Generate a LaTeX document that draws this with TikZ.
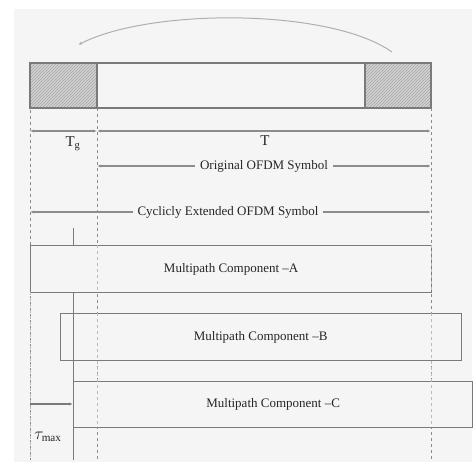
\documentclass[tikz,border=0pt]{standalone}
\usepackage{fontspec}
\setmainfont{Liberation Serif}
\usetikzlibrary{patterns,arrows.meta}
\definecolor{bgc}{HTML}{F5F5F5}
\definecolor{ln}{HTML}{8C8C8C}
\definecolor{lnd}{HTML}{7A7A7A}
\begin{document}
\begin{tikzpicture}[x=1pt,y=-1pt,
  boxline/.style={draw=lnd,line width=1.3pt},
  guide/.style={draw=ln,line width=0.6pt,dash pattern=on 3pt off 3pt},
  dimline/.style={draw=ln,line width=1.1pt},
  tip/.style={-{Latex[length=4pt,width=3pt]}},
  lbl/.style={font=\fontsize{13}{15}\selectfont,text=black!85,inner sep=1pt},
  cutlbl/.style={lbl,fill=bgc,inner xsep=5pt},
  mbox/.style={boxline,fill=bgc}]
\useasboundingbox (0,0) rectangle (474,474);
\fill[bgc] (14,9) rectangle (472,462);
% hatched guard parts
\fill[gray!35] (30,63) rectangle (97,108);
\fill[pattern=north east lines,pattern color=gray!70] (30,63) rectangle (97,108);
\fill[gray!35] (365,63) rectangle (431,108);
\fill[pattern=north east lines,pattern color=gray!70] (365,63) rectangle (431,108);
% symbol box
\coordinate (s1) at (30,63);
\coordinate (s2) at (431,108);
\draw[boxline] (s1) rectangle (s2);
\draw[boxline] (97,63) -- (97,108);
\draw[boxline] (365,63) -- (365,108);
% arc
\coordinate (arcA) at (392,52);
\coordinate (arcB) at (78,45);
\draw[draw=ln!70,line width=1pt,-{Latex[length=4pt,width=3pt]}] (arcA) .. controls (330,8) and (150,8) .. (arcB);
% guides
\coordinate (g1t) at (30,110); \coordinate (g1b) at (30,460);
\coordinate (g2t) at (97,108); \coordinate (g2b) at (97,460);
\coordinate (g3t) at (431,108); \coordinate (g3b) at (431,460);
\draw[guide] (g1t) -- (g1b);
\draw[guide] (g2t) -- (g2b);
\draw[guide] (g3t) -- (g3b);
% dimension line
\coordinate (d1) at (30,131); \coordinate (d2) at (97,131); \coordinate (d3) at (431,131);
\draw[dimline,{Latex[length=4pt,width=3pt]}-{Latex[length=4pt,width=3pt]}] (d1) -- (d2);
\draw[dimline,{Latex[length=4pt,width=3pt]}-{Latex[length=4pt,width=3pt]}] (d2) -- (d3);
\node[lbl,font=\fontsize{15}{17}\selectfont] (tg) at (73,144) {T\textsubscript{g}};
\node[lbl,font=\fontsize{15}{17}\selectfont] (tt) at (265,141) {T};
% original symbol
\coordinate (o1) at (97,166); \coordinate (o2) at (431,166);
\draw[dimline,{Latex[length=4pt,width=3pt]}-{Latex[length=4pt,width=3pt]}] (o1) -- (o2);
\node[cutlbl] (orig) at (264,166) {Original OFDM Symbol};
% cyclic extended
\coordinate (c1) at (30,212); \coordinate (c2) at (431,212);
\draw[dimline,{Latex[length=4pt,width=3pt]}-{Latex[length=4pt,width=3pt]}] (c1) -- (c2);
\node[cutlbl] (cyc) at (228,212) {Cyclicly Extended OFDM Symbol};
% tau max line
\coordinate (tau1) at (73,228); \coordinate (tau2) at (73,460);
\draw[draw=lnd,line width=0.9pt] (tau1) -- (tau2);
% multipath boxes
\node[mbox,minimum width=401pt,minimum height=47pt,anchor=north west,inner sep=0] (ma) at (30,245) {};
\node[lbl] at (ma.center) {Multipath Component –A};
\node[mbox,minimum width=401pt,minimum height=47pt,anchor=north west,inner sep=0] (mb) at (60,313) {};
\node[lbl] at ([xshift=-0.5pt]mb.center) {Multipath Component –B};
\node[mbox,minimum width=399pt,minimum height=46pt,anchor=north west,inner sep=0] (mc) at (73,381) {};
\node[lbl] at (mc.center) {Multipath Component –C};
% redraw guides over boxes (faint)
\draw[guide,draw=ln!60] (30,292) -- (g1b);
\draw[guide,draw=ln!60] (97,245) -- (97,292);
\draw[guide,draw=ln!60] (97,313) -- (97,427);
\draw[guide,draw=ln!60] (431,245) -- (431,292);
\draw[guide,draw=ln!60] (431,313) -- (431,427);
\draw[draw=lnd,line width=0.9pt] (73,313) -- (73,360);
% tau max arrow
\coordinate (ta) at (30,404); \coordinate (tb) at (73,404);
\draw[dimline,draw=lnd,tip] (ta) -- (tb);
\node[lbl,font=\fontsize{16}{18}\selectfont] (taumax) at (48,437) {$\tau_{\mathrm{max}}$};
\end{tikzpicture}
\end{document}
